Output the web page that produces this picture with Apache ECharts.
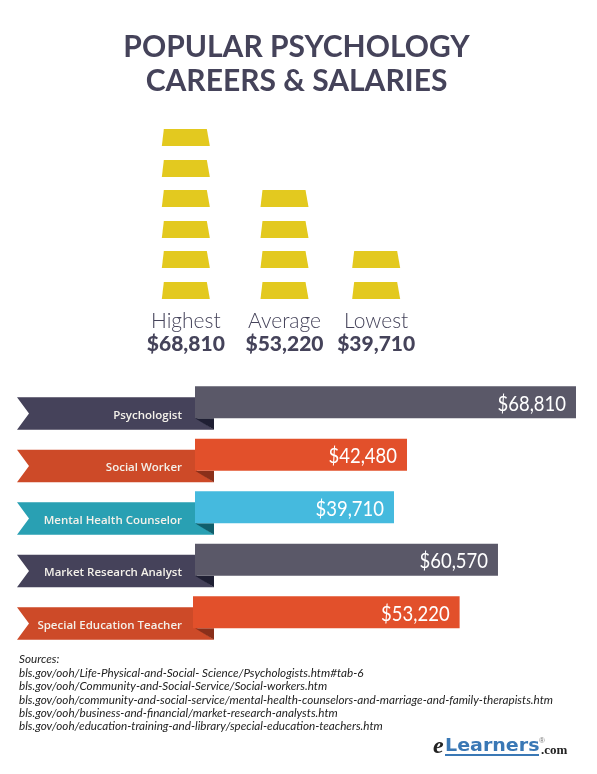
<!DOCTYPE html>
<html><head><meta charset="utf-8">
<style>html,body{margin:0;padding:0;background:#fff}#c{width:597px;height:774px}</style>
<script src="https://cdn.jsdelivr.net/npm/echarts@6/dist/echarts.min.js"></script>
</head><body><div id="c"></div>
<script>
// Gold-bar pictogram
var summaryLabels = ['Highest', 'Average', 'Lowest'];
var summarySalaries = [68810, 53220, 39710];
var summaryStacks = [6, 4, 2];
// Ribbon chart
var careers = ['Psychologist', 'Social Worker', 'Mental Health Counselor', 'Market Research Analyst', 'Special Education Teacher'];
var salaries = [68810, 42480, 39710, 60570, 53220];
// Lengths as drawn in the picture, on the $68,810 bar's scale (the picture's bars are not proportional to their labels)
var drawnLengths = [68810, 38290, 35940, 54720, 47790];
var sourceLines = ['Sources:',
  'bls.gov/ooh/Life-Physical-and-Social- Science/Psychologists.htm#tab-6',
  'bls.gov/ooh/Community-and-Social-Service/Social-workers.htm',
  'bls.gov/ooh/community-and-social-service/mental-health-counselors-and-marriage-and-family-therapists.htm',
  'bls.gov/ooh/business-and-financial/market-research-analysts.htm',
  'bls.gov/ooh/education-training-and-library/special-education-teachers.htm'];

var themes = [
  {bar:'#5a5868', tail:'#45425a', fold:'#1f1f33'},
  {bar:'#e2502b', tail:'#cd4a28', fold:'#8a2f1a'},
  {bar:'#45bade', tail:'#29a0b3', fold:'#0f5f6c'},
  {bar:'#5a5868', tail:'#45425a', fold:'#1f1f33'},
  {bar:'#e2502b', tail:'#cd4a28', fold:'#8a2f1a'}
];
var barNudge = [0, 0, 0, 0, -2];
var colNudge = [1, 4, 0];
var ink = '#45435a';
var fmt = function (v) { return '$' + String(v).replace(/\B(?=(\d{3})+$)/g, ','); };

var chart = echarts.init(document.getElementById('c'), null, {renderer:'canvas'});
chart.setOption({
  animation:false,
  backgroundColor:'#fff',
  grid:[
    {left:137, top:113, width:287, height:186},
    {left:195, top:376, width:381, height:262.5}
  ],
  xAxis:[
    {gridIndex:0, type:'category', data:summaryLabels, show:false},
    {gridIndex:1, type:'value', min:0, max:68810, show:false}
  ],
  yAxis:[
    {gridIndex:0, type:'value', min:0, max:6.08, show:false},
    {gridIndex:1, type:'category', data:careers, inverse:true, show:false}
  ],
  title:{
    text:'POPULAR PSYCHOLOGY\nCAREERS & SALARIES',
    left:297, top:25, textAlign:'center',
    textStyle:{fontFamily:'Lato', fontWeight:700, fontSize:30, lineHeight:34.4, color:ink}
  },
  series:[
    {
      type:'custom', xAxisIndex:0, yAxisIndex:0, clip:false,
      data:summaryStacks.map(function(n,i){return [i,n];}),
      renderItem:function(params, api){
        var i = api.value(0), n = api.value(1), kids = [];
        var cx = api.coord([i,0])[0] + colNudge[i];
        for (var k=0;k<n;k++){
          var yb = Math.round(api.coord([i,k])[1]), yt = yb-17;
          kids.push({type:'polygon', shape:{points:[[cx-24,yb],[cx+24,yb],[cx+21,yt],[cx-22,yt]]}, style:{fill:'#e3c91f'}});
        }
        var base = api.coord([i,0])[1];
        kids.push({type:'text', style:{text:summaryLabels[i], x:cx, y:base+22, align:'center', verticalAlign:'middle', fontFamily:'Lato', fontWeight:300, fontSize:21, fill:ink}});
        kids.push({type:'text', style:{text:fmt(summarySalaries[i]), x:cx, y:base+45.5, align:'center', verticalAlign:'middle', fontFamily:'Lato', fontWeight:900, fontSize:21, fill:ink}});
        return {type:'group', children:kids};
      }
    },
    {
      type:'custom', xAxisIndex:1, yAxisIndex:1, clip:false,
      data:drawnLengths.map(function(v,i){return [v,i];}),
      renderItem:function(params, api){
        var i = api.value(1), t = themes[i];
        var end = api.coord([api.value(0), i]);
        var x0 = api.coord([0,i])[0], y = end[1];
        var top = y-16, bot = y+16, tTop = y-5, tBot = y+27.5, tx0 = x0-178, tx1 = x0+19;
        return {type:'group', children:[
          {type:'polygon', shape:{points:[[tx0,tTop],[x0+2,tTop],[x0+2,bot],[tx1,tBot],[tx0,tBot],[tx0+12,(tTop+tBot)/2]]}, style:{fill:t.tail}},
          {type:'polygon', shape:{points:[[x0,bot],[tx1,bot],[tx1,tBot]]}, style:{fill:t.fold}},
          {type:'rect', shape:{x:x0+barNudge[i], y:top, width:end[0]-x0-barNudge[i], height:32}, style:{fill:t.bar}},
          {type:'text', style:{text:careers[i], x:x0-13, y:y+13, align:'right', verticalAlign:'middle', fontFamily:'Open Sans', fontWeight:600, fontSize:11.5, fill:'#f4f1ea'}},
          {type:'text', x:end[0]-10, y:y+1.5, scaleX:0.88, style:{text:fmt(salaries[i]), x:0, y:0, align:'right', verticalAlign:'middle', fontFamily:'Lato', fontWeight:400, fontSize:21, fill:'#fff'}}
        ]};
      }
    }
  ],
  graphic:[
    {type:'text', left:19, top:653, style:{text:sourceLines.join('\n'), fontFamily:'Lato', fontStyle:'italic', fontSize:11.7, lineHeight:13.4, fill:'#222'}},
    {type:'text', x:433, y:735, style:{text:'e', fontFamily:'Liberation Serif', fontStyle:'italic', fontWeight:700, fontSize:24, fill:'#222'}},
    {type:'text', x:445, y:738, scaleX:1.12, style:{text:'Learners', fontFamily:'DejaVu Sans', fontWeight:700, fontSize:17, fill:'#3a78b5'}},
    {type:'text', x:539, y:737, style:{text:'®', fontFamily:'Liberation Sans', fontSize:8, fill:'#777'}},
    {type:'text', x:541, y:744, style:{text:'.com', fontFamily:'Liberation Serif', fontWeight:700, fontSize:13, fill:'#222'}},
    {type:'rect', x:445, y:754, shape:{width:94, height:2}, style:{fill:'#3a78b5'}}
  ]
});
chart.setOption({title:{left:291.5}});
</script></body></html>
